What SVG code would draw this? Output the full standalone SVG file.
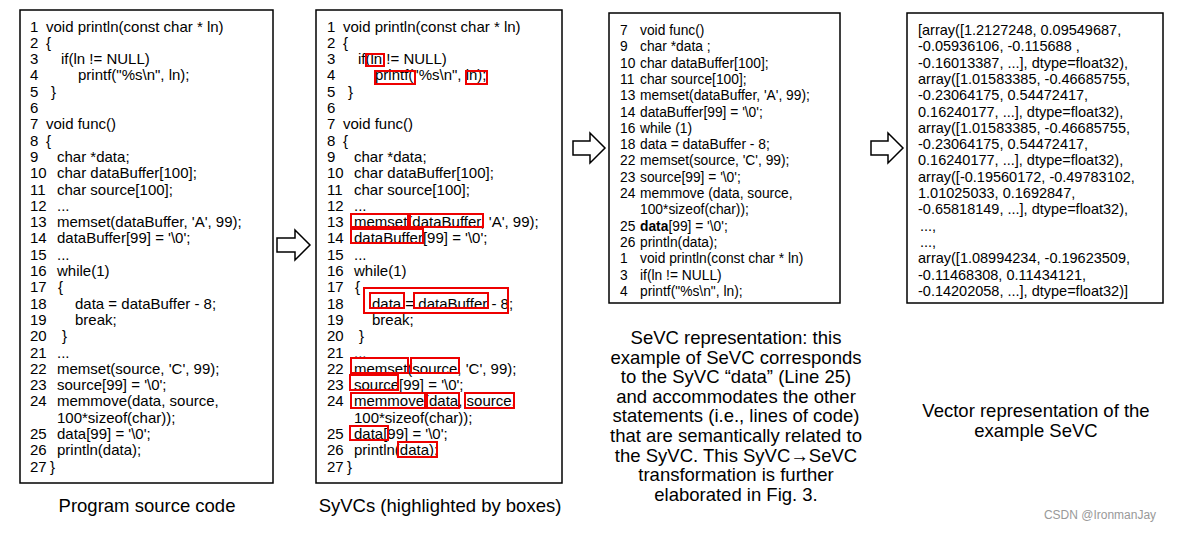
<svg xmlns="http://www.w3.org/2000/svg" width="1181" height="533" viewBox="0 0 1181 533">
<style>
text{font-family:"Liberation Sans",Arial,sans-serif;fill:#000}
.c{font-size:15px}
.c3{font-size:13.8px}
.c4{font-size:14.5px}
.cap{font-size:18.5px;text-anchor:middle}
.box{fill:#fff;stroke:#000;stroke-width:1.5}
.hl{fill:none;stroke:#e00;stroke-width:2}
.ar{fill:#fff;stroke:#000;stroke-width:1.5}
</style>
<rect width="1181" height="533" fill="#fff"/>
<defs>
<g id="src">
<text class="c" x="0" y="31.5">1</text><text class="c" x="16" y="31.5">void println(const char * ln)</text>
<text class="c" x="0" y="47.8">2</text><text class="c" x="16" y="47.8">{</text>
<text class="c" x="0" y="64.1">3</text><text class="c" x="31" y="64.1">if(ln != NULL)</text>
<text class="c" x="0" y="80.4">4</text><text class="c" x="48" y="80.4">printf("%s\n", ln);</text>
<text class="c" x="0" y="96.7">5</text><text class="c" x="21" y="96.7">}</text>
<text class="c" x="0" y="113">6</text>
<text class="c" x="0" y="129.3">7</text><text class="c" x="16" y="129.3">void func()</text>
<text class="c" x="0" y="145.6">8</text><text class="c" x="16" y="145.6">{</text>
<text class="c" x="0" y="161.9">9</text><text class="c" x="27" y="161.9">char *data;</text>
<text class="c" x="0" y="178.2">10</text><text class="c" x="27" y="178.2">char dataBuffer[100];</text>
<text class="c" x="0" y="194.5">11</text><text class="c" x="27" y="194.5">char source[100];</text>
<text class="c" x="0" y="210.8">12</text><text class="c" x="27" y="210.8">...</text>
<text class="c" x="0" y="227.1">13</text><text class="c" x="27" y="227.1">memset(dataBuffer, 'A', 99);</text>
<text class="c" x="0" y="243.4">14</text><text class="c" x="27" y="243.4">dataBuffer[99] = '\0';</text>
<text class="c" x="0" y="259.7">15</text><text class="c" x="27" y="259.7">...</text>
<text class="c" x="0" y="276">16</text><text class="c" x="27" y="276">while(1)</text>
<text class="c" x="0" y="292.3">17</text><text class="c" x="28" y="292.3">{</text>
<text class="c" x="0" y="308.6">18</text><text class="c" x="45" y="308.6">data = dataBuffer - 8;</text>
<text class="c" x="0" y="324.9">19</text><text class="c" x="45" y="324.9">break;</text>
<text class="c" x="0" y="341.2">20</text><text class="c" x="32" y="341.2">}</text>
<text class="c" x="0" y="357.5">21</text><text class="c" x="27" y="357.5">...</text>
<text class="c" x="0" y="373.8">22</text><text class="c" x="27" y="373.8">memset(source, 'C', 99);</text>
<text class="c" x="0" y="390.1">23</text><text class="c" x="27" y="390.1">source[99] = '\0';</text>
<text class="c" x="0" y="406.4">24</text><text class="c" x="27" y="406.4">memmove(data, source,</text>
<text class="c" x="27" y="422.7">100*sizeof(char));</text>
<text class="c" x="0" y="439">25</text><text class="c" x="27" y="439">data[99] = '\0';</text>
<text class="c" x="0" y="455.3">26</text><text class="c" x="27" y="455.3">println(data);</text>
<text class="c" x="0" y="471.6">27</text><text class="c" x="20" y="471.6">}</text>
</g>
</defs>
<g id="node-source">
<rect class="box" x="20" y="10" width="253" height="473"/>
<use href="#src" transform="translate(30,0)"/>
<text class="cap" x="147" y="512">Program source code</text>
</g>
<g id="node-syvc">
<rect class="box" x="316" y="10" width="246" height="473"/>
<use href="#src" transform="translate(327,0)"/>
<rect class="hl" x="366" y="54" width="18" height="12"/>
<rect class="hl" x="375" y="71" width="40" height="13"/>
<rect class="hl" x="466" y="71" width="21" height="13"/>
<rect class="hl" x="351" y="214" width="57" height="13"/>
<rect class="hl" x="410" y="214" width="73" height="13"/>
<rect class="hl" x="351" y="229" width="72" height="14"/>
<rect class="hl" x="364" y="288" width="144" height="25"/>
<rect class="hl" x="370" y="293" width="34" height="15"/>
<rect class="hl" x="414" y="293" width="74" height="15"/>
<rect class="hl" x="351" y="358" width="57" height="15"/>
<rect class="hl" x="411" y="358" width="48" height="15"/>
<rect class="hl" x="350" y="375" width="48" height="15"/>
<rect class="hl" x="351" y="393" width="74" height="15"/>
<rect class="hl" x="427" y="393" width="32" height="15"/>
<rect class="hl" x="465" y="393" width="49" height="15"/>
<rect class="hl" x="350" y="426" width="38" height="14"/>
<rect class="hl" x="398" y="442" width="39" height="15"/>
<text class="cap" x="440" y="512">SyVCs (highlighted by boxes)</text>
</g>
<g id="node-sevc">
<rect class="box" x="609" y="13" width="231" height="290"/>
<text class="c3" x="620" y="35">7</text><text class="c3" x="640" y="35">void func()</text>
<text class="c3" x="620" y="51.3">9</text><text class="c3" x="640" y="51.3">char *data ;</text>
<text class="c3" x="620" y="67.6">10</text><text class="c3" x="640" y="67.6">char dataBuffer[100];</text>
<text class="c3" x="620" y="83.9">11</text><text class="c3" x="640" y="83.9">char source[100];</text>
<text class="c3" x="620" y="100.2">13</text><text class="c3" x="640" y="100.2">memset(dataBuffer, 'A', 99);</text>
<text class="c3" x="620" y="116.5">14</text><text class="c3" x="640" y="116.5">dataBuffer[99] = '\0';</text>
<text class="c3" x="620" y="132.8">16</text><text class="c3" x="640" y="132.8">while (1)</text>
<text class="c3" x="620" y="149.1">18</text><text class="c3" x="640" y="149.1">data = dataBuffer - 8;</text>
<text class="c3" x="620" y="165.4">22</text><text class="c3" x="640" y="165.4">memset(source, 'C', 99);</text>
<text class="c3" x="620" y="181.7">23</text><text class="c3" x="640" y="181.7">source[99] = '\0';</text>
<text class="c3" x="620" y="198">24</text><text class="c3" x="640" y="198">memmove (data, source,</text>
<text class="c3" x="640" y="214.3">100*sizeof(char));</text>
<text class="c3" x="620" y="230.6">25</text><text class="c3" x="640" y="230.6"><tspan font-weight="bold">data</tspan>[99] = '\0';</text>
<text class="c3" x="620" y="246.9">26</text><text class="c3" x="640" y="246.9">println(data);</text>
<text class="c3" x="620" y="263.2">1</text><text class="c3" x="640" y="263.2">void println(const char * ln)</text>
<text class="c3" x="620" y="279.5">3</text><text class="c3" x="640" y="279.5">if(ln != NULL)</text>
<text class="c3" x="620" y="295.8">4</text><text class="c3" x="640" y="295.8">printf("%s\n", ln);</text>
<text class="cap" x="736" y="344">SeVC representation: this</text>
<text class="cap" x="736" y="363.6">example of SeVC corresponds</text>
<text class="cap" x="736" y="383.2">to the SyVC “data” (Line 25)</text>
<text class="cap" x="736" y="402.8">and accommodates the other</text>
<text class="cap" x="736" y="422.4">statements (i.e., lines of code)</text>
<text class="cap" x="736" y="442">that are semantically related to</text>
<text class="cap" x="736" y="461.6">the SyVC. This SyVC→SeVC</text>
<text class="cap" x="736" y="481.2">transformation is further</text>
<text class="cap" x="736" y="500.8">elaborated in Fig. 3.</text>
</g>
<g id="node-vector">
<rect class="box" x="907" y="13" width="256" height="290"/>
<text class="c4" x="918" y="35">[array([1.2127248, 0.09549687,</text>
<text class="c4" x="918" y="51.3">-0.05936106, -0.115688 ,</text>
<text class="c4" x="918" y="67.6">-0.16013387, ...], dtype=float32),</text>
<text class="c4" x="918" y="83.9">array([1.01583385, -0.46685755,</text>
<text class="c4" x="918" y="100.2">-0.23064175, 0.54472417,</text>
<text class="c4" x="918" y="116.5">0.16240177, ...], dtype=float32),</text>
<text class="c4" x="918" y="132.8">array([1.01583385, -0.46685755,</text>
<text class="c4" x="918" y="149.1">-0.23064175, 0.54472417,</text>
<text class="c4" x="918" y="165.4">0.16240177, ...], dtype=float32),</text>
<text class="c4" x="918" y="181.7">array([-0.19560172, -0.49783102,</text>
<text class="c4" x="918" y="198">1.01025033, 0.1692847,</text>
<text class="c4" x="918" y="214.3">-0.65818149, ...], dtype=float32),</text>
<text class="c4" x="920" y="230.6">...,</text>
<text class="c4" x="920" y="246.9">...,</text>
<text class="c4" x="918" y="263.2">array([1.08994234, -0.19623509,</text>
<text class="c4" x="918" y="279.5">-0.11468308, 0.11434121,</text>
<text class="c4" x="918" y="295.8">-0.14202058, ...], dtype=float32)]</text>
<text class="cap" x="1036" y="417">Vector representation of the</text>
<text class="cap" x="1036" y="437">example SeVC</text>
</g>
<g id="connectors">
<path class="ar" d="M277,238 H295 V230 L310,245 L295,260 V252 H277 Z"/>
<path class="ar" d="M573,141 H590 V133 L605,148 L590,163 V155 H573 Z"/>
<path class="ar" d="M871,141 H888 V133 L903,148 L888,163 V155 H871 Z"/>
</g>
<text x="1100" y="519" font-size="12" style="fill:#999;text-anchor:middle">CSDN @IronmanJay</text>
</svg>
